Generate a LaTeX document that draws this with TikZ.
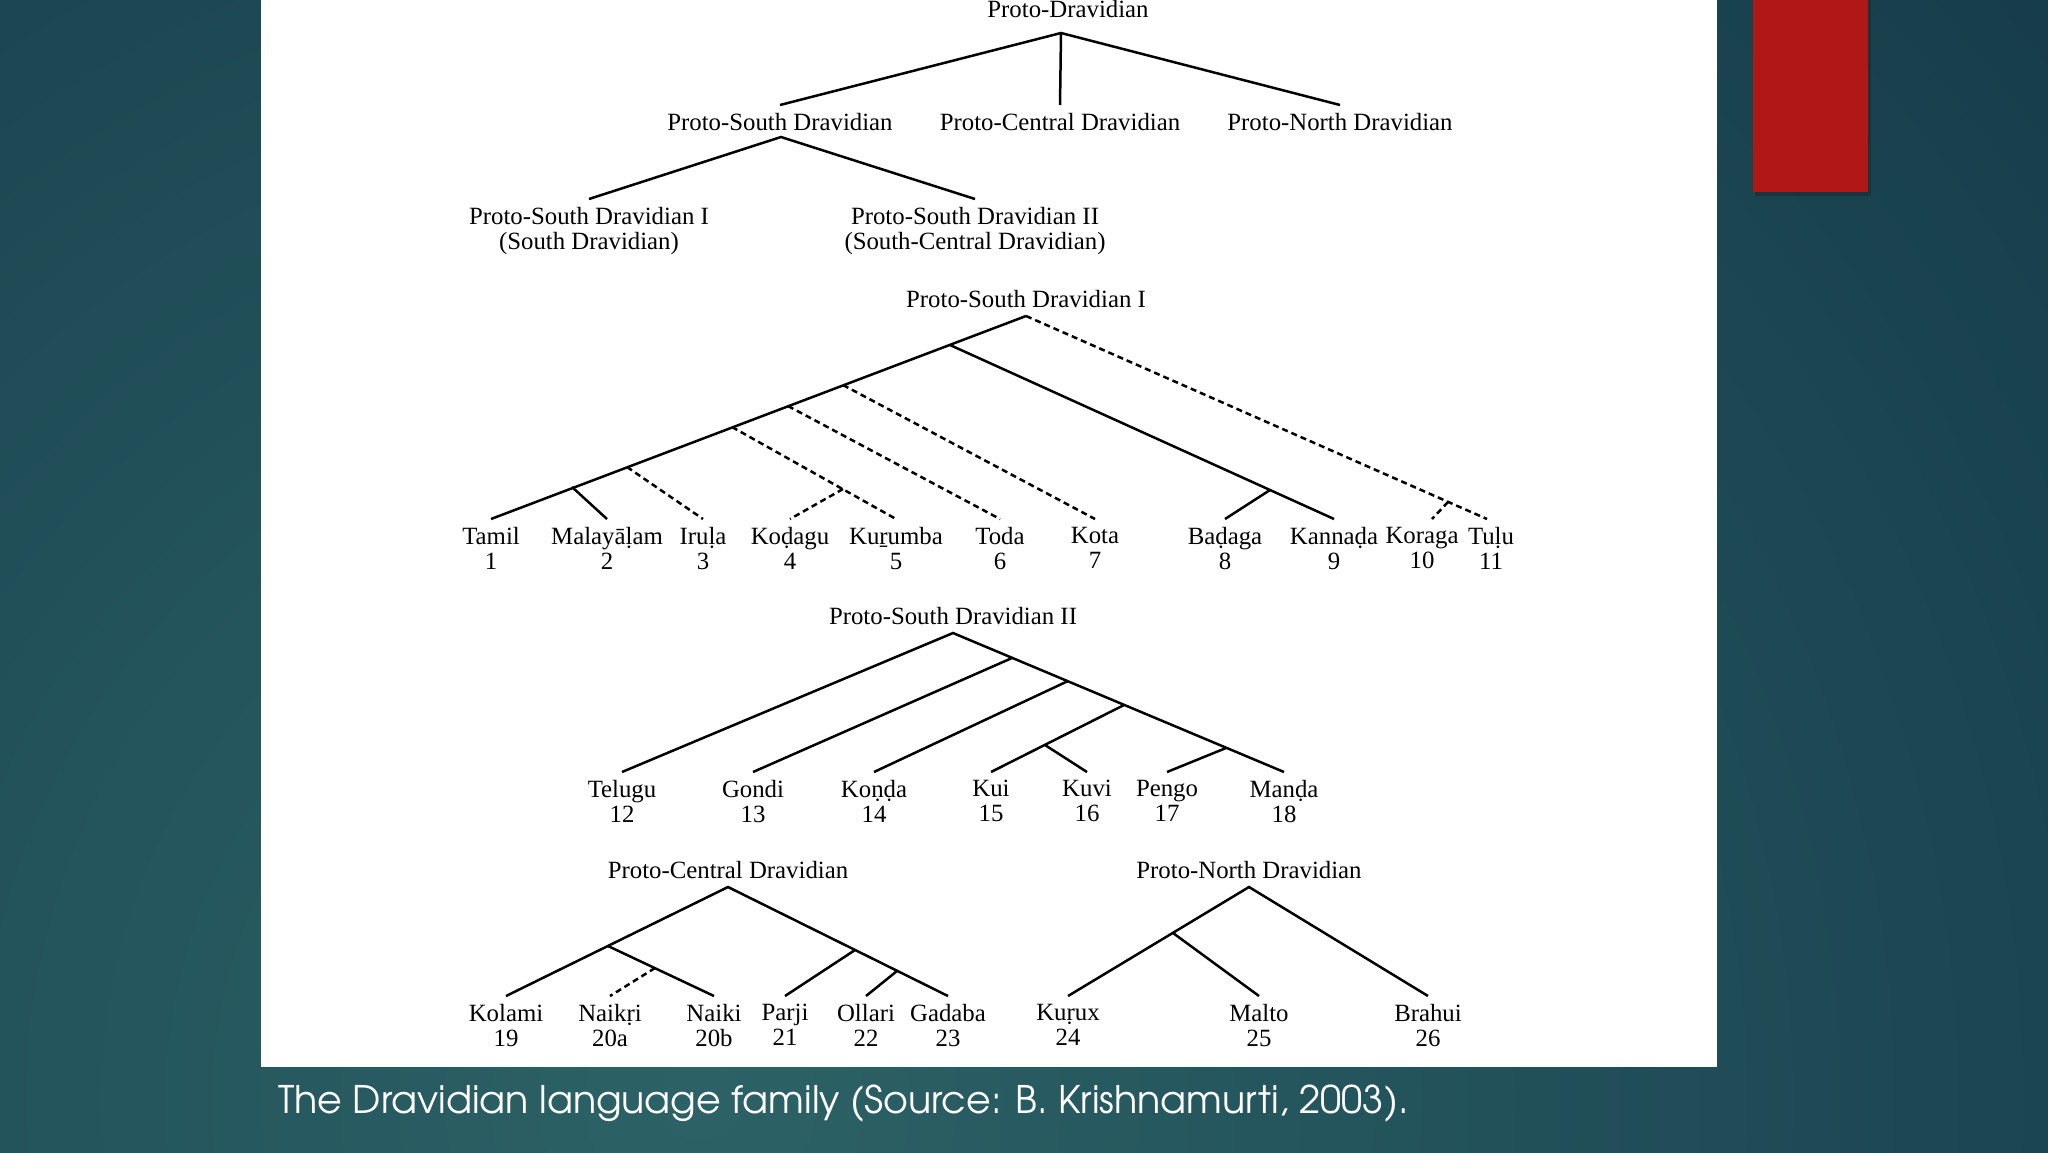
\documentclass[tikz,border=0pt]{standalone}
\usepackage{fontspec}
\setmainfont{Liberation Serif}
\newfontfamily\capfont{texgyreadventor-regular.otf}
\definecolor{bgdark}{HTML}{133747}
\definecolor{bglight}{HTML}{2C6266}
\definecolor{barred}{HTML}{B01818}
\tikzset{
  lbl/.style={inner sep=0pt,outer sep=4pt,align=center,font=\fontsize{12.4}{12.6}\selectfont},
  leaf/.style={lbl,anchor=north},
  head/.style={lbl,anchor=south},
  br/.style={line width=1.25pt},
  brd/.style={br,dash pattern=on 3pt off 2pt}
}
\begin{document}
\begin{tikzpicture}[x=0.5pt,y=-0.5pt]
\useasboundingbox (0,0) rectangle (2048,1152);
\fill[bgdark] (0,0) rectangle (2048,1152);
\begin{scope}
\clip (0,0) rectangle (2048,1152);
\shade[inner color=bglight,outer color=bgdark] (700,1100) circle[radius=1000pt];
\end{scope}
\fill[white] (261,0) rectangle (1717,1067);
\fill[black,opacity=.18] (1755,0) rectangle (1871,196);
\fill[barred] (1753,0) rectangle (1868,192);
\node[anchor=base west,inner sep=0pt,text=white,font=\capfont\fontsize{19}{22}\selectfont] (cap) at (278,1113) {The Dravidian language family (Source: B. Krishnamurti, 2003).};
\node[lbl] (pd) at (1068,9) {Proto-Dravidian};
\coordinate (r0) at (1061,33);
\node[leaf] (psd) at (780,105) {Proto-South Dravidian};
\node[leaf] (pcd) at (1060,105) {Proto-Central Dravidian};
\node[leaf] (pnd) at (1340,105) {Proto-North Dravidian};
\draw[br] (psd.north) -- (r0) -- (pnd.north);
\draw[br] (r0) -- (pcd.north);
\coordinate (r1) at (781,137);
\node[leaf] (sdI) at (589,199) {Proto-South Dravidian I\\(South Dravidian)};
\node[leaf] (sdII) at (975,199) {Proto-South Dravidian II\\(South-Central Dravidian)};
\draw[br] (sdI.north) -- (r1) -- (sdII.north);
\coordinate (a1) at (1026,316);
\node[head] (hI) at (a1) {Proto-South Dravidian I};
\node[leaf] (tamil) at (491,519) {Tamil\\1};
\node[leaf] (malayalam) at (607,519) {Malayāḷam\\2};
\node[leaf] (irula) at (703,519) {Iruḷa\\3};
\node[leaf] (kodagu) at (790,519) {Koḍagu\\4};
\node[leaf] (kurumba) at (896,519) {Kuṟumba\\5};
\node[leaf] (toda) at (1000,519) {Toda\\6};
\node[leaf] (kota) at (1095,519) {Kota\\7};
\node[leaf] (badaga) at (1225,519) {Baḍaga\\8};
\node[leaf] (kannada) at (1334,519) {Kannaḍa\\9};
\node[leaf] (koraga) at (1422,519) {Koraga\\10};
\node[leaf] (tulu) at (1491,519) {Tuḷu\\11};
\coordinate (k1) at (950,345);
\coordinate (k2) at (843,385);
\coordinate (k3) at (788,406);
\coordinate (k4) at (732,427);
\coordinate (k5) at (627,467);
\coordinate (k6) at (572,487);
\coordinate (k7) at (843,489);
\coordinate (k8) at (1270,490);
\coordinate (k9) at (1448,502);
\draw[br] (tamil.north) -- (a1);
\draw[brd] (a1) -- ([xshift=-2pt]tulu.north);
\draw[br] (k1) -- (kannada.north);
\draw[brd] (k2) -- (kota.north);
\draw[brd] (k3) -- (toda.north);
\draw[brd] (k4) -- (kurumba.north);
\draw[brd] (k7) -- (kodagu.north);
\draw[brd] (k5) -- (irula.north);
\draw[br] (k6) -- (malayalam.north);
\draw[br] (k8) -- (badaga.north);
\draw[brd] (k9) -- ([xshift=5pt]koraga.north);
\coordinate (a2) at (953,633);
\node[head] (hII) at (a2) {Proto-South Dravidian II};
\node[leaf] (telugu) at (622,772) {Telugu\\12};
\node[leaf] (gondi) at (753,772) {Gondi\\13};
\node[leaf] (konda) at (874,772) {Koṇḍa\\14};
\node[leaf] (kui) at (991,772) {Kui\\15};
\node[leaf] (kuvi) at (1087,772) {Kuvi\\16};
\node[leaf] (pengo) at (1167,772) {Pengo\\17};
\node[leaf] (manda) at (1284,772) {Manḍa\\18};
\coordinate (m1) at (1012,658);
\coordinate (m2) at (1068,681);
\coordinate (m3) at (1124,705);
\coordinate (m4) at (1226,748);
\coordinate (m5) at (1045,745);
\draw[br] (telugu.north) -- (a2) -- (manda.north);
\draw[br] (m1) -- (gondi.north);
\draw[br] (m2) -- (konda.north);
\draw[br] (m3) -- (kui.north);
\draw[br] (m5) -- (kuvi.north);
\draw[br] (m4) -- (pengo.north);
\coordinate (a3) at (728,887);
\node[head] (hC) at (a3) {Proto-Central Dravidian};
\node[leaf] (kolami) at (506,996) {Kolami\\19};
\node[leaf] (naikri) at (610,996) {Naikṛi\\20a};
\node[leaf] (naiki) at (714,996) {Naiki\\20b};
\node[leaf] (parji) at (785,996) {Parji\\21};
\node[leaf] (ollari) at (866,996) {Ollari\\22};
\node[leaf] (gadaba) at (948,996) {Gadaba\\23};
\coordinate (n1) at (608,946);
\coordinate (n2) at (655,968);
\coordinate (p1) at (855,950);
\coordinate (p2) at (897,971);
\draw[br] (kolami.north) -- (a3) -- (gadaba.north);
\draw[br] (n1) -- (naiki.north);
\draw[brd] (n2) -- (naikri.north);
\draw[br] (p1) -- (parji.north);
\draw[br] (p2) -- (ollari.north);
\coordinate (a4) at (1249,887);
\node[head] (hN) at (a4) {Proto-North Dravidian};
\node[leaf] (kurux) at (1068,996) {Kuṛux\\24};
\node[leaf] (malto) at (1259,996) {Malto\\25};
\node[leaf] (brahui) at (1428,996) {Brahui\\26};
\coordinate (q1) at (1173,933);
\draw[br] (kurux.north) -- (a4) -- (brahui.north);
\draw[br] (q1) -- (malto.north);
\end{tikzpicture}
\end{document}
